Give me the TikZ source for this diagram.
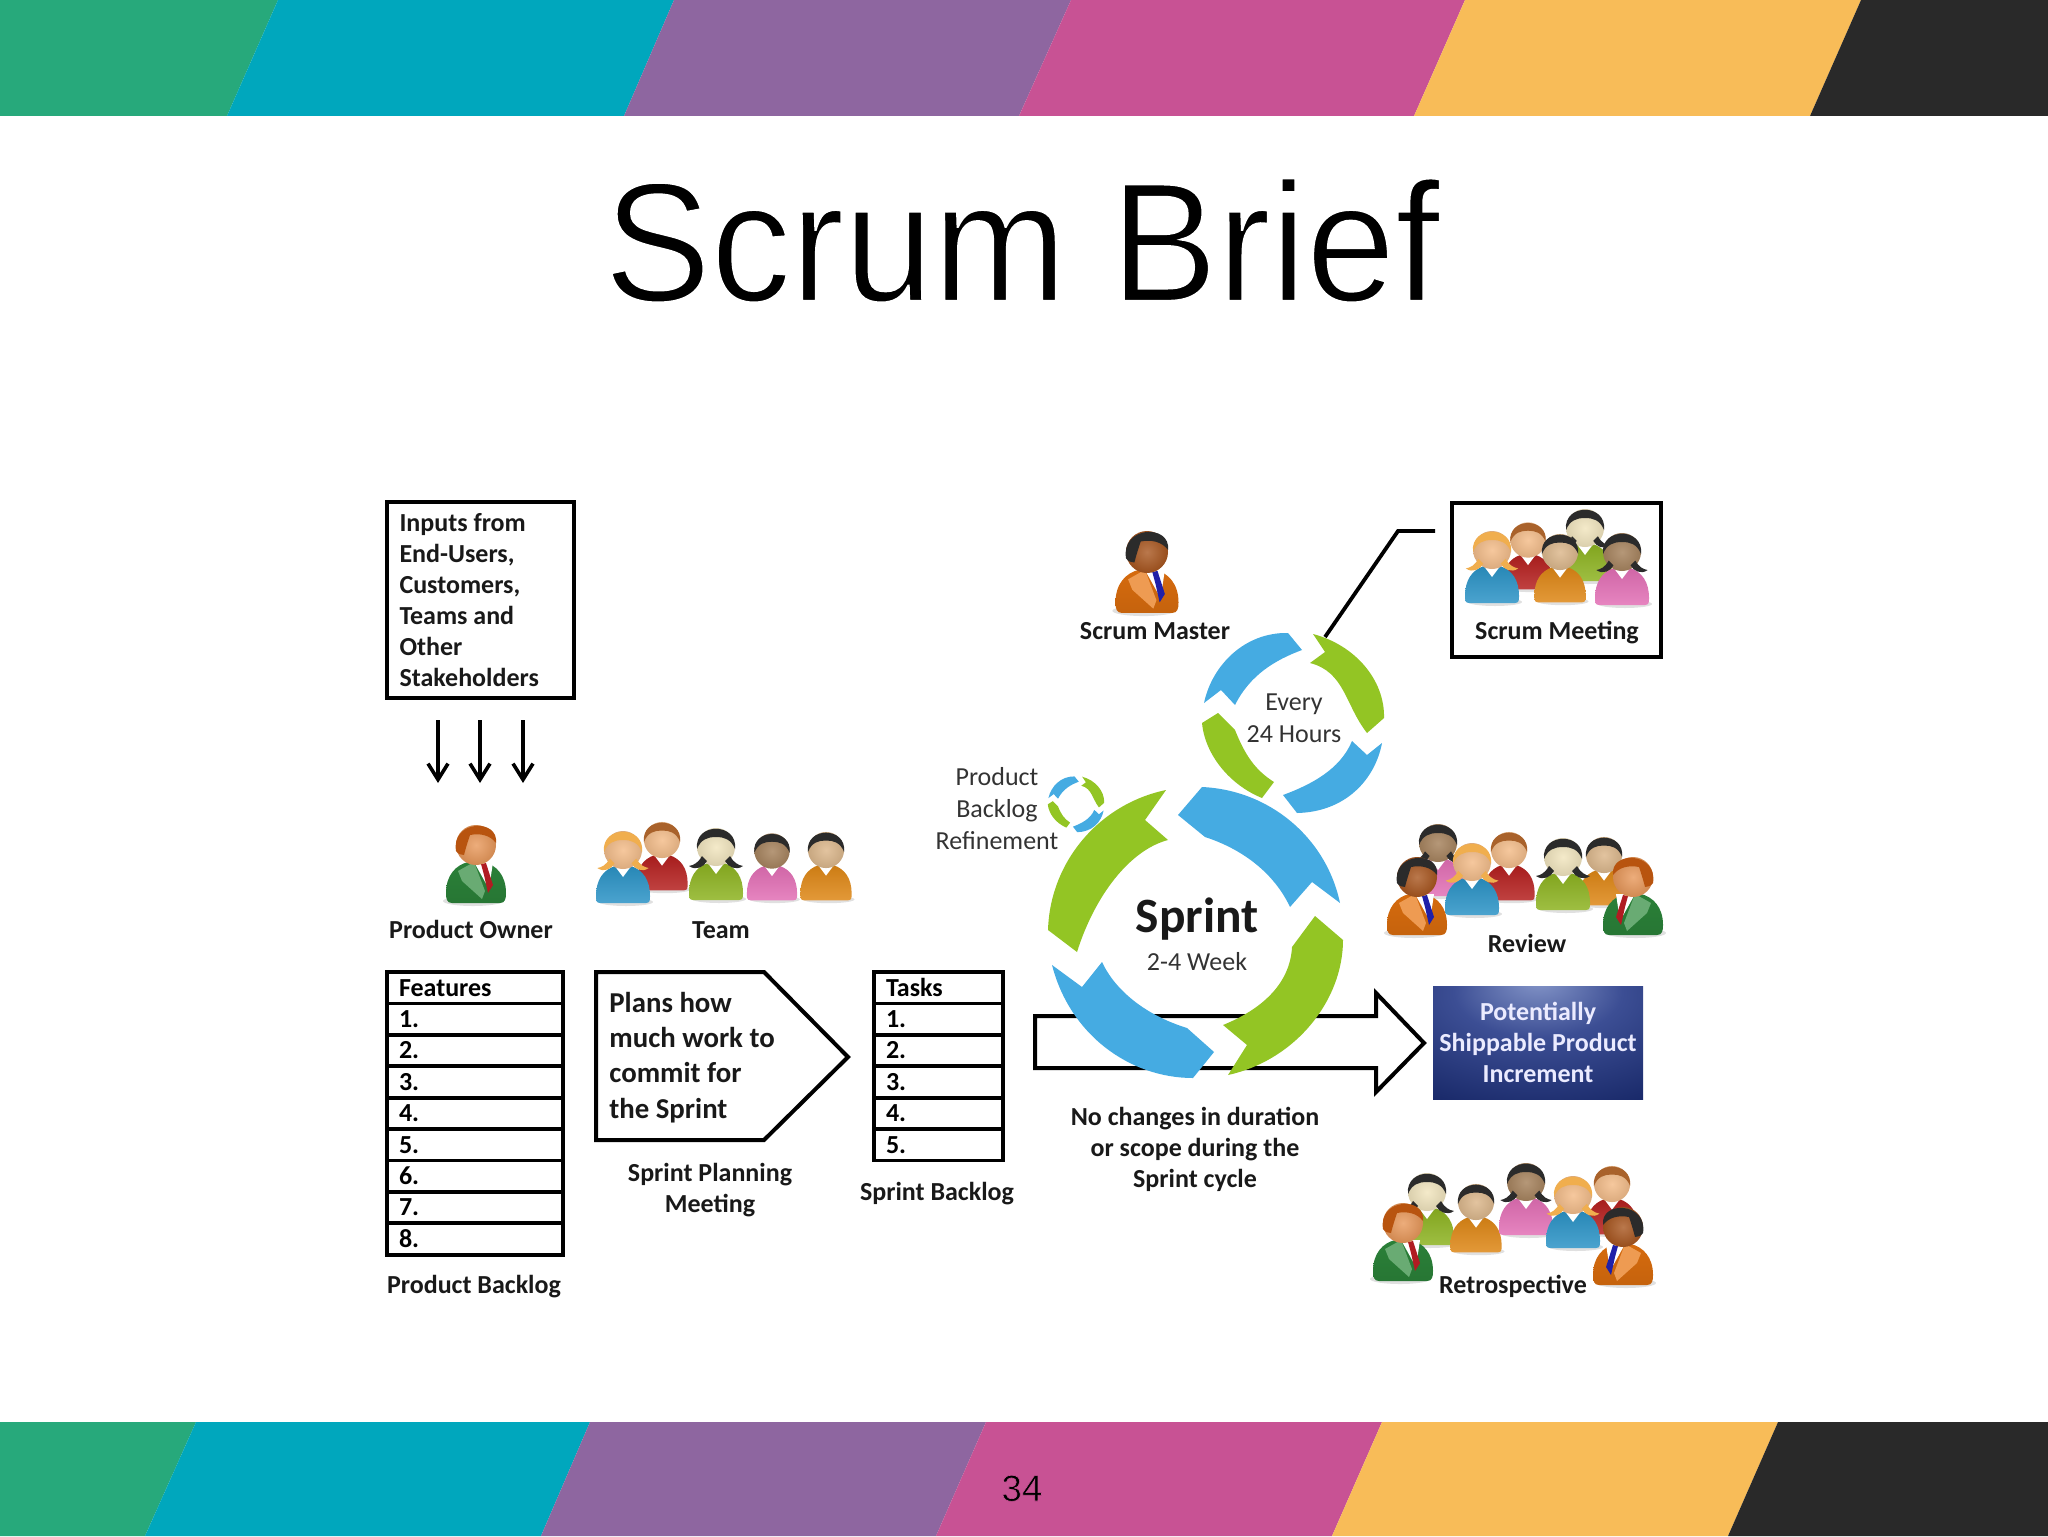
\documentclass[tikz,border=0pt]{standalone}
\usepackage{fontspec}
\setmainfont{Carlito}
\newfontfamily\slidefont{Liberation Sans}
\usetikzlibrary{arrows.meta}

\definecolor{bandgreen}{HTML}{27A97B}
\definecolor{bandteal}{HTML}{00A7BD}
\definecolor{bandpurple}{HTML}{8E66A0}
\definecolor{bandpink}{HTML}{C85294}
\definecolor{bandorange}{HTML}{F8BC58}
\definecolor{bandblack}{HTML}{292929}
\definecolor{ringgreen}{HTML}{93C524}
\definecolor{ringblue}{HTML}{45ABE2}
\definecolor{shirtblue}{HTML}{2B93C6}
\definecolor{shirtred}{HTML}{B5201F}
\definecolor{shirtlime}{HTML}{8DB321}
\definecolor{shirtpink}{HTML}{E26FB5}
\definecolor{shirtorange}{HTML}{DE8716}
\definecolor{suitgreen}{HTML}{2E8B3D}
\definecolor{suitorange}{HTML}{E8740F}
\definecolor{skinfair}{HTML}{F4BE8C}
\definecolor{skinpale}{HTML}{F2E6C0}
\definecolor{skintan}{HTML}{DDB98E}
\definecolor{skinbrown}{HTML}{A88560}
\definecolor{skinsuit}{HTML}{E8985A}
\definecolor{skindark}{HTML}{A8561F}
\definecolor{hairblonde}{HTML}{F0AE4E}
\definecolor{hairbrown}{HTML}{A9622B}
\definecolor{hairblack}{HTML}{2B2B2B}
\definecolor{hairred}{HTML}{B8540F}
\definecolor{tieblue}{HTML}{2020A8}
\definecolor{tiered}{HTML}{B01C22}
\definecolor{incA}{HTML}{8495C8}
\definecolor{incB}{HTML}{3C4E94}
\definecolor{incC}{HTML}{182868}
\pgfdeclareradialshading{incglow}{\pgfpoint{0bp}{28bp}}{color(0bp)=(incA); color(20bp)=(incB); color(48bp)=(incC); color(100bp)=(incC)}

% outline in the ground colour thins the letters of the slide font
\newcommand{\thintext}[3]{\special{pdf:code q 2 Tr #1 w #2 RG}#3\special{pdf:code Q}}

\tikzset{
  lbl/.style={font=\fontsize{13}{15.5}\selectfont\bfseries, text=black!90, inner sep=0pt, align=flush center},
  thinlbl/.style={font=\fontsize{13}{16}\selectfont, text=black!80, inner sep=0pt, align=flush center},
  framed/.style={draw, line width=2pt, inner sep=0pt},
  row/.style={draw, line width=1.9pt, minimum height=15.7pt, inner ysep=0pt, inner xsep=6pt,
    font=\fontsize{13}{15}\selectfont\bfseries, align=flush left},
  pics/casual/.style n args={3}{code={
    \fill[black!12] (3,52) ellipse (27 and 4);
    \shade[top color=#1!92!black, bottom color=#1!85!white]
      (-23,53) .. controls (-27,53) and (-27,50) .. (-27,46)
      .. controls (-27,30) and (-20,20) .. (-8,16) -- (8,16)
      .. controls (20,20) and (27,30) .. (27,46)
      .. controls (27,50) and (27,53) .. (23,53) -- cycle;
    \fill[white] (-9,15) -- (0,27) -- (9,15) -- cycle;
    \shade[inner color=#2!85!white, outer color=#2!90!black] (0,0) circle (19);
    \fill[#3] (-19,2) .. controls (-22,-25) and (22,-25) .. (19,2)
      .. controls (15,-8) and (8,-10) .. (0,-10)
      .. controls (-8,-10) and (-15,-8) .. (-19,2) -- cycle;
  }},
  pics/lady/.style n args={3}{code={
    \pic {casual={#1}{#2}{#3}};
    \fill[#3] (-14,9) .. controls (-18,16) and (-22,18) .. (-27,19)
      .. controls (-20,24) and (-12,20) .. (-9,14) -- cycle;
    \fill[#3] (14,9) .. controls (18,16) and (22,18) .. (27,19)
      .. controls (20,24) and (12,20) .. (9,14) -- cycle;
  }},
  pics/suit/.style n args={4}{code={
    \fill[black!12] (-3,56) ellipse (30 and 5);
    \shade[top color=#1!92!black, bottom color=#1!85!black]
      (-24,58) .. controls (-29,58) and (-30,54) .. (-30,48)
      .. controls (-30,30) and (-20,20) .. (-8,17) -- (8,17)
      .. controls (20,20) and (30,30) .. (30,48)
      .. controls (30,54) and (29,58) .. (24,58) -- cycle;
    \fill[#1!72!white] (-2,17) -- (-18,26) -- (-14,36) -- (6,54) -- (9,46) -- cycle;
    \fill[white] (-2,17) -- (17,17) -- (13,44) -- cycle;
    \fill[#4] (5,19) -- (10,18) -- (17,40) -- (12,48) -- (8,30) -- cycle;
    \shade[inner color=#2!80!white, outer color=#2!90!black] (0,0) circle (20);
    \fill[#3] (-20,6) .. controls (-25,-25) and (23,-27) .. (20,-2)
      .. controls (14,-10) and (4,-12) .. (-6,-10)
      .. controls (-8,-4) and (-10,2) .. (-12,10)
      .. controls (-15,10) and (-18,9) .. (-20,6) -- cycle;
  }},
}

% four arrows of a meeting circle, centre (1293,722)
\newcommand{\ringfour}{
  \fill[ringblue] (1288,633) .. controls (1245,632) and (1212,665) .. (1204,703)
    -- (1221,690) -- (1235,705) .. controls (1250,675) and (1275,660) .. (1302,650) -- cycle;
  \fill[ringgreen] (1313,634) .. controls (1355,645) and (1385,680) .. (1384,718)
    -- (1367,733) .. controls (1345,705) and (1345,672) .. (1310,663) -- (1325,652) -- cycle;
  \fill[ringblue] (1382,743) .. controls (1375,780) and (1345,812) .. (1297,813)
    -- (1283,795) .. controls (1310,785) and (1340,770) .. (1352,741) -- (1367,755) -- cycle;
  \fill[ringgreen] (1202,723) -- (1218,713) -- (1235,730)
    .. controls (1245,755) and (1255,770) .. (1274,782) -- (1262,798)
    .. controls (1230,785) and (1205,755) .. (1202,723) -- cycle;
}

\begin{document}
\begin{tikzpicture}[x=0.5pt,y=-0.5pt]
\useasboundingbox (0,0) rectangle (2048,1536);

% colour bands
\fill[bandgreen] (0,0) -- (278,0) -- (227,116) -- (0,116) -- cycle;
\fill[bandteal] (278,0) -- (674,0) -- (624,116) -- (227,116) -- cycle;
\fill[bandpurple] (674,0) -- (1071,0) -- (1019,116) -- (624,116) -- cycle;
\fill[bandpink] (1071,0) -- (1465,0) -- (1414,116) -- (1019,116) -- cycle;
\fill[bandorange] (1465,0) -- (1861,0) -- (1810,116) -- (1414,116) -- cycle;
\fill[bandblack] (1861,0) -- (2048,0) -- (2048,116) -- (1810,116) -- cycle;

\fill[bandgreen] (0,1422) -- (196,1422) -- (145,1536) -- (0,1536) -- cycle;
\fill[bandteal] (196,1422) -- (590,1422) -- (541,1536) -- (145,1536) -- cycle;
\fill[bandpurple] (590,1422) -- (986,1422) -- (936,1536) -- (541,1536) -- cycle;
\fill[bandpink] (986,1422) -- (1382,1422) -- (1332,1536) -- (936,1536) -- cycle;
\fill[bandorange] (1382,1422) -- (1778,1422) -- (1728,1536) -- (1332,1536) -- cycle;
\fill[bandblack] (1778,1422) -- (2048,1422) -- (2048,1536) -- (1728,1536) -- cycle;

\node[anchor=base, inner sep=0pt, transform shape, yscale=1.06, font=\slidefont\fontsize{80}{80}\selectfont] (title) at (1022,301) {\thintext{1.1}{1 1 1}{Scrum Brief}};
\node[anchor=base, inner sep=0pt, text=black, font=\slidefont\fontsize{18.5}{19}\selectfont] (pageno) at (1022,1501) {\thintext{0.3}{0.784 0.322 0.58}{34}};

% inputs
\node[framed, lbl, minimum width=93.5pt, minimum height=98pt, align=flush left, text width=81pt] (inputs) at (480.5,600)
  {Inputs from\\End-Users,\\Customers,\\Teams and\\Other\\Stakeholders};
\foreach \ax/\nm in {438/inA,480/inB,523/inC} {
  \coordinate (\nm top) at (\ax,720);
  \coordinate (\nm end) at (\ax,783);
  \draw[line width=1.8pt, -{Straight Barb[length=8pt,width=10pt]}] (\nm top) -- (\nm end);
}

% product owner and team
\pic at (476,845) {suit={suitgreen}{skinsuit}{hairred}{tiered}};
\node[lbl, anchor=base] (ownerlbl) at (471,938) {Product Owner};
\pic[scale=.95] at (662,840) {casual={shirtred}{skinfair}{hairbrown}};
\pic[scale=.95] at (623,850) {lady={shirtblue}{skinfair}{hairblonde}};
\pic at (716,847) {lady={shirtlime}{skinpale}{hairblack}};
\pic[scale=.93] at (772,851) {casual={shirtpink}{skinbrown}{hairblack}};
\pic[scale=.95] at (826,850) {casual={shirtorange}{skintan}{hairblack}};
\node[lbl, anchor=base] (teamlbl) at (721,938) {Team};

% product backlog
\node[row, text width=76pt] (feat0) at (475,987.7) {Features};
\foreach \i in {1,...,8}
  \node[row, text width=76pt] (feat\i) at (475,{987.7+31.4*\i}) {\i.};
\node[lbl, anchor=base] (backloglbl) at (474,1293) {Product Backlog};

% planning
\draw[line width=2pt] (596,972) coordinate (pa) -- (764,972) -- (848,1057) -- (764,1140) -- (596,1140) -- cycle;
\node[anchor=base west, inner sep=0pt, font=\fontsize{14.4}{17.6}\selectfont\bfseries, align=flush left, text=black!90] (plans) at (609,1118)
  {Plans how\\much work to\\commit for\\the Sprint};
\node[lbl, anchor=base] (planlbl) at (710,1212) {Sprint Planning\\Meeting};

% sprint backlog
\node[row, text width=52.5pt] (task0) at (938.5,987.7) {Tasks};
\foreach \i in {1,...,5}
  \node[row, text width=52.5pt] (task\i) at (938.5,{987.7+31.4*\i}) {\i.};
\node[lbl, anchor=base] (tasklbl) at (937,1200) {Sprint Backlog};

% increment arrow
\draw[line width=2pt, fill=white] (1035,1016) -- (1376,1016) -- (1376,993) -- (1424,1043)
  -- (1376,1092) -- (1376,1068) -- (1035,1068) -- cycle;
\node[shading=incglow, minimum width=105pt, minimum height=56.5pt, inner sep=0pt,
  lbl, text=blue!8!white] (increment) at (1538,1042.5)
  {Potentially\\Shippable Product\\Increment};

% circles
\ringfour
\begin{scope}[shift={(1076,804)},scale=.31,shift={(-1293,-722)}]
  \ringfour
\end{scope}
\fill[ringgreen] (1166,790) .. controls (1099,804) and (1050,862) .. (1048,930) -- (1077,952)
  .. controls (1095,895) and (1130,850) .. (1168,840) -- (1145,820) -- cycle;
\fill[ringblue] (1202,787) .. controls (1269,790) and (1326,837) .. (1340,903) -- (1312,882) -- (1290,907)
  .. controls (1275,875) and (1245,850) .. (1205,837) -- (1178,815) -- cycle;
\fill[ringgreen] (1343,940) .. controls (1343,1000) and (1296,1060) .. (1228,1075) -- (1247,1045) -- (1223,1025)
  .. controls (1260,1010) and (1290,985) .. (1292,947) -- (1315,916) -- cycle;
\fill[ringblue] (1193,1078) .. controls (1130,1078) and (1070,1035) .. (1052,965) -- (1082,987) -- (1102,962)
  .. controls (1115,990) and (1145,1015) .. (1187,1028) -- (1214,1052) -- cycle;

\node[anchor=base, inner sep=0pt, font=\fontsize{24.7}{25}\selectfont\bfseries, text=black!90] (sprint) at (1197,932) {Sprint};
\node[thinlbl, anchor=base] (weeks) at (1197,970) {2-4 Week};
\node[thinlbl, anchor=base] (every) at (1294,742) {Every\\24 Hours};
\node[thinlbl, anchor=base] (refine) at (997,849) {Product\\Backlog\\Refinement};
\node[lbl, anchor=base] (nochange) at (1195,1187) {No changes in duration\\or scope during the\\Sprint cycle};

% scrum master and meeting
\pic[scale=1.05] at (1147,552) {suit={suitorange}{skindark}{hairblack}{tieblue}};
\node[lbl, anchor=base] (masterlbl) at (1155,639) {Scrum Master};
\node[framed, minimum width=104.5pt, minimum height=77pt] (meetbox) at (1556.5,580) {};
\coordinate (callA) at (1435,531);
\coordinate (callB) at (1398,531);
\coordinate (callC) at (1325,637);
\draw[line width=1.9pt] (callA) -- (callB) -- (callC);
\pic[scale=.92] at (1585,528) {lady={shirtlime}{skinpale}{hairblack}};
\pic[scale=.93] at (1528,540) {casual={shirtred}{skinfair}{hairbrown}};
\pic[scale=.95] at (1622,552) {lady={shirtpink}{skinbrown}{hairblack}};
\pic[scale=.97] at (1492,550) {lady={shirtblue}{skinfair}{hairblonde}};
\pic[scale=.95] at (1560,552) {casual={shirtorange}{skintan}{hairblack}};
\node[lbl, anchor=base] (meetlbl) at (1557,639) {Scrum Meeting};

% review
\pic[scale=.93] at (1438,843) {lady={shirtpink}{skinbrown}{hairblack}};
\pic[scale=.95] at (1509,850) {casual={shirtred}{skinfair}{hairbrown}};
\pic[scale=.98] at (1472,862) {lady={shirtblue}{skinfair}{hairblonde}};
\pic at (1417,877) {suit={suitorange}{skindark}{hairblack}{tieblue}};
\pic[scale=.95] at (1604,855) {casual={shirtorange}{skintan}{hairblack}};
\pic at (1563,857) {lady={shirtlime}{skinpale}{hairblack}};
\pic[xscale=-1] at (1633,877) {suit={suitgreen}{skinsuit}{hairred}{tiered}};
\node[lbl, anchor=base] (reviewlbl) at (1527,952) {Review};

% retrospective
\pic[scale=.95] at (1612,1184) {casual={shirtred}{skinfair}{hairbrown}};
\pic at (1427,1192) {lady={shirtlime}{skinpale}{hairblack}};
\pic[scale=.95] at (1476,1202) {casual={shirtorange}{skintan}{hairblack}};
\pic[scale=.95] at (1526,1182) {lady={shirtpink}{skinbrown}{hairblack}};
\pic[scale=.98] at (1573,1195) {lady={shirtblue}{skinfair}{hairblonde}};
\pic at (1403,1223) {suit={suitgreen}{skinsuit}{hairred}{tiered}};
\pic[xscale=-1] at (1623,1227) {suit={suitorange}{skindark}{hairblack}{tieblue}};
\node[lbl, anchor=base] (retrolbl) at (1513,1293) {Retrospective};

\end{tikzpicture}
\end{document}
